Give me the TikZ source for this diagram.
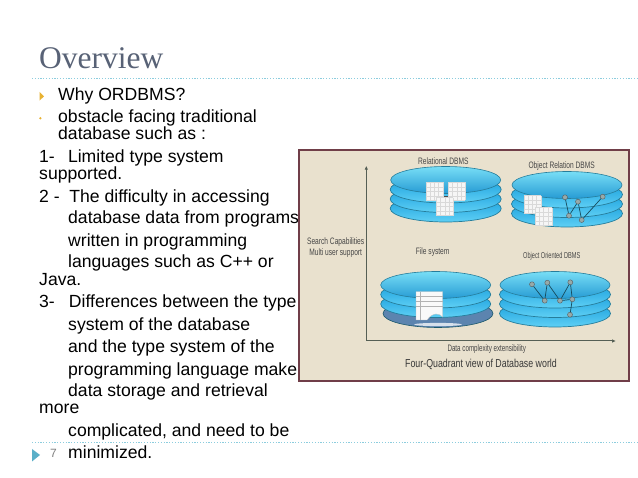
\documentclass[tikz,border=0pt]{standalone}
\usepackage{fontspec}
\usetikzlibrary{arrows.meta}
\setmainfont{Liberation Sans}
\newfontfamily\titlefont{Liberation Serif}
\definecolor{titlecol}{RGB}{88,98,118}
\definecolor{rulecol}{RGB}{140,205,222}
\definecolor{gold}{RGB}{232,178,50}
\definecolor{teal}{RGB}{90,175,200}
\definecolor{paper}{RGB}{233,225,206}
\definecolor{frame}{RGB}{112,62,72}
\definecolor{rim}{RGB}{38,125,155}
\definecolor{sidehi}{RGB}{95,208,245}
\definecolor{sidelo}{RGB}{20,155,218}
\definecolor{topl}{RGB}{120,222,246}
\definecolor{topd}{RGB}{38,155,212}
\definecolor{axis}{RGB}{85,95,85}
\definecolor{labelc}{RGB}{70,70,70}
\definecolor{gnode}{RGB}{150,170,170}
\definecolor{basedisk}{RGB}{92,132,175}
\tikzset{
  slide/.style={anchor=base west,inner sep=0pt,font=\fontsize{17.6}{20}\selectfont,text=black},
  lab/.style={inner sep=0pt,text=labelc,font=\fontsize{7.8}{9}\selectfont},
  gn/.style={circle,draw=gray!70!black,fill=gnode,minimum size=5pt,inner sep=0pt,line width=.4pt},
  ge/.style={draw=rim!60!black,line width=.7pt},
  rulel/.style={rulecol,line width=1pt,dash pattern=on 1.2pt off 1.6pt},
  ax/.style={axis,line width=1pt,-{Latex[length=4pt,width=3.5pt]}},
  band/.style={top color=sidelo,bottom color=sidehi,draw=rim,line width=.7pt},
  lid/.style={top color=topl,bottom color=topd,draw=rim,line width=.6pt}
}
\newcommand{\dbdisk}[3]{% cx, cy top, layer step
  \foreach \k in {3,2,1}{
    \shade[band] (#1,#2+\k*#3) ellipse [x radius=55.5,y radius=13.5];
  }
  \shade[lid] (#1,#2) ellipse [x radius=55,y radius=13.5];
}
\newcommand{\cellgrid}[2]{%
  \fill[white!93!gray] (#1,#2) rectangle ++(17,18);
  \foreach \q in {0,1,2,3,4}{\draw[gray!30,line width=.4pt] (#1+\q*4.25,#2) -- ++(0,18);}
  \foreach \q in {0,1,2,3,4}{\draw[gray!30,line width=.4pt] (#1,#2+\q*4.5) -- ++(17,0);}
}
\begin{document}
\begin{tikzpicture}[x=1pt,y=-1pt]
\useasboundingbox (0,0) rectangle (638,478);
\fill[white] (0,0) rectangle (638,478);
\node[anchor=base west,inner sep=0pt,text=titlecol,font=\titlefont\fontsize{31.5}{33}\selectfont] (title) at (39,69) {Overview};
\draw[rulel] (32,79) -- (638,79);
\draw[rulel] (32,443) -- (638,443);
\fill[gold] (39.5,92) -- (44,96.3) -- (39.5,100.7) -- cycle;
\fill[gold] (40.4,118.3) circle (1.3);
\fill[teal] (32,449) -- (40,455) -- (32,461.5) -- cycle;
\node[anchor=base west,inner sep=0pt,text=gray,font=\fontsize{12}{14}\selectfont] (pagenum) at (50,458) {7};
\node[slide] (t1) at (58,101) {Why ORDBMS?};
\node[slide] (t2) at (58,123) {obstacle facing traditional};
\node[slide] (t3) at (58,140) {database such as :};
\node[slide] (t4) at (39,163) {1-\hspace{0.75em}Limited type system};
\node[slide] (t5) at (39,180) {supported.};
\node[slide] (t6) at (39,203) {2 -\hspace{0.55em}The difficulty in accessing};
\node[slide] (t7) at (68,224) {database data from programs};
\node[slide] (t8) at (68,247) {written in programming};
\node[slide] (t9) at (68,268) {languages such as C++ or};
\node[slide] (t10) at (39,286) {Java.};
\node[slide] (t11) at (39,308) {3-\hspace{0.8em}Differences between the type};
\node[slide] (t12) at (68,331) {system of the database};
\node[slide] (t13) at (68,353) {and the type system of the};
\node[slide] (t14) at (68,376) {programming language make};
\node[slide] (t15) at (68,397) {data storage and retrieval};
\node[slide] (t16) at (39,414) {more};
\node[slide] (t17) at (68,436.5) {complicated, and need to be};
\node[slide] (t18) at (68,459) {minimized.};
% picture
\fill[paper,draw=frame,line width=2pt] (299,150) rectangle (628.5,381.5);
\draw[ax] (366.3,341) -- (366.3,165.7);
\draw[ax] (366.3,341) -- (616,341);
% relational
\dbdisk{445.7}{180}{9.5}
\draw[black!70,line width=.8pt] (443,196) -- (447.5,196);
\cellgrid{425.7}{182.3}
\cellgrid{448.3}{182.3}
\cellgrid{436.3}{197.7}
% object relational
\dbdisk{567}{185}{9.5}
\cellgrid{523.7}{195.7}
\cellgrid{535}{207.7}
\node[gn] (a) at (565,197.3) {};
\node[gn] (b) at (578,201.7) {};
\node[gn] (c) at (569,215.7) {};
\node[gn] (d) at (581.7,220) {};
\node[gn] (e) at (602.7,196.7) {};
\draw[ge] (a) -- (c);
\draw[ge] (c) -- (b);
\draw[ge] (b) -- (d);
\draw[ge] (d) -- (e);
% file system
\fill[basedisk,draw=rim!70!black,line width=.6pt] (438,313.5) ellipse [x radius=55,y radius=14];
\fill[white!75!basedisk] (438,324.5) ellipse [x radius=24,y radius=1.6];
\foreach \k in {2,1}{\shade[band] (435.7,285+\k*9.5) ellipse [x radius=55,y radius=13.5];}
\shade[lid] (435.7,285) ellipse [x radius=55,y radius=13.5];
\fill[white!95!gray,draw=gray!50,line width=.3pt] (416,291.7) -- (442.7,291.7) -- (442.7,317) .. controls (440,313.5) and (433,311.5) .. (427,320) -- (416,320) -- cycle;
\foreach \q in {296,301,306.5}{\draw[gray!60,line width=.4pt] (416,\q) -- (442.7,\q);}
\draw[gray!60,line width=.4pt] (420,291.7) -- (420,320);
% object oriented
\dbdisk{555}{285}{9.5}
\node[gn] (o1) at (532,284.3) {};
\node[gn] (o2) at (547.3,282.7) {};
\node[gn] (o3) at (570.3,282.3) {};
\node[gn] (o4) at (544.7,300.7) {};
\node[gn] (o5) at (560,300.7) {};
\node[gn] (o6) at (572.3,299.3) {};
\node[gn] (o7) at (570,314.7) {};
\draw[ge] (o1) -- (o4);
\draw[ge] (o4) -- (o2);
\draw[ge] (o2) -- (o5);
\draw[ge] (o5) -- (o3);
\draw[ge] (o3) -- (o6);
\draw[ge] (o5) -- (o6);
\draw[ge] (o6) -- (o7);
% labels
\node[lab] (l1) at (443.3,161) {\scalebox{.85}[1.2]{Relational DBMS}};
\node[lab] (l2) at (561.7,166.3) {\scalebox{.85}[1.2]{Object Relation DBMS}};
\node[lab] (l3) at (335.7,242) {\scalebox{.85}[1.2]{Search Capabilities}};
\node[lab] (l4) at (335.7,252.7) {\scalebox{.85}[1.2]{Multi user support}};
\node[lab] (l5) at (432.7,251.7) {\scalebox{.85}[1.2]{File system}};
\node[lab] (l6) at (551.7,256) {\scalebox{.72}[1.1]{Object Oriented DBMS}};
\node[lab] (l7) at (486.7,349) {\scalebox{.8}[1.2]{Data complexity extensibility}};
\node[lab,font=\fontsize{9.6}{11}\selectfont,text=labelc!80!black] (l8) at (481,364.3) {\scalebox{.92}[1.2]{Four-Quadrant view of Database world}};
\end{tikzpicture}
\end{document}
